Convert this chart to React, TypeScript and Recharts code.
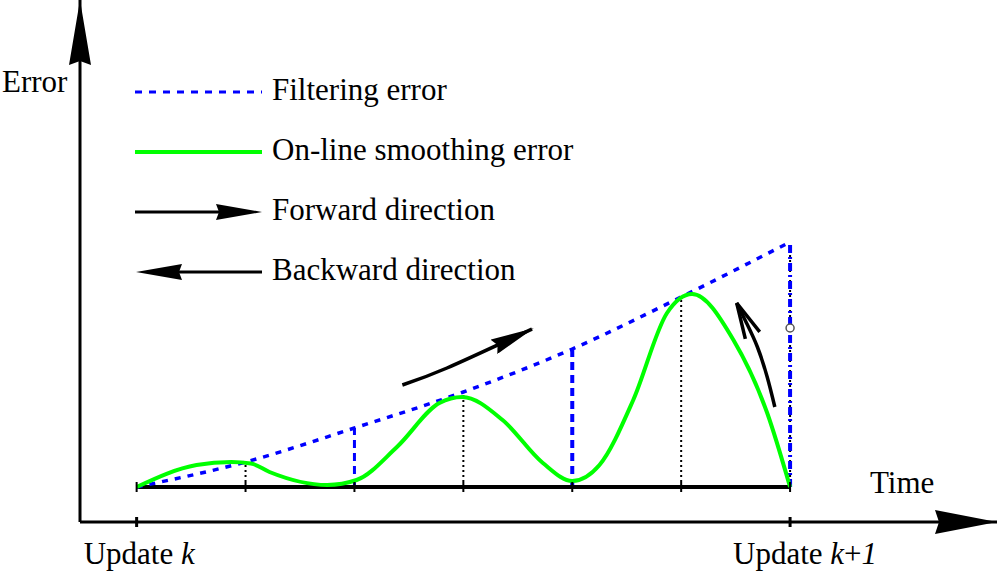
import React from "react";
import {
    ComposedChart,
    Line,
    XAxis,
    YAxis,
    ReferenceLine,
    ReferenceDot,
    Scatter,
    Legend,
    Label,
} from "recharts";

// time steps between update k and update k+1
const steps = [0, 1, 2, 3, 4, 5, 6];
const filteringError = [0, 0.25, 0.59, 0.95, 1.38, 1.9, 2.45];

// on-line smoothing error
const smoothT = [
    0, 0.55, 0.87, 1.05, 1.22, 1.75, 2.02, 2.39, 2.78, 2.99, 3.36, 3.73, 4.0,
    4.25, 4.56, 4.87, 5.1, 5.48, 5.79, 6,
];
const smoothErr = [
    0, 0.22, 0.25, 0.235, 0.15, 0.02, 0.07, 0.4, 0.84, 0.9, 0.67, 0.24, 0.06,
    0.22, 0.87, 1.74, 1.93, 1.47, 0.74, 0,
];

// direction arrows
const forwardT = [2.44, 2.85, 3.63];
const forwardErr = [1.02, 1.19, 1.58];
const backwardT = [5.86, 5.79, 5.7, 5.6, 5.51];
const backwardErr = [0.8, 1.1, 1.4, 1.64, 1.84];

const markerT = 6;
const markerErr = 1.59;

const updateLabels = ["k", "k+1"];
const legendLabels = [
    "Filtering error",
    "On-line smoothing error",
    "Forward direction",
    "Backward direction",
];

const xDomain = [-0.52, 7.9];
const yDomain = [-0.35, 4.87];

const BLUE = "#0000ff";
const GREEN = "#00ff00";
const FONT = "'Liberation Serif', 'Times New Roman', serif";

const filterData = steps.map((t, i) => ({ t, v: filteringError[i] }));
const smoothData = smoothT.map((t, i) => ({ t, v: smoothErr[i] }));
const forwardData = forwardT.map((t, i) => ({ t, v: forwardErr[i] }));
const backwardData = backwardT.map((t, i) => ({ t, v: backwardErr[i] }));
const tickData = steps.map((t) => ({ t, v: 0 }));

function LegendIcon({ index }: { index: number }) {
    if (index === 0) {
        return (
            <svg width={130} height={20}>
                <line x1={0} y1={10} x2={127} y2={10} stroke={BLUE} strokeWidth={3} strokeDasharray="7 7" />
            </svg>
        );
    }
    if (index === 1) {
        return (
            <svg width={130} height={20}>
                <line x1={0} y1={10} x2={127} y2={10} stroke={GREEN} strokeWidth={4} />
            </svg>
        );
    }
    if (index === 2) {
        return (
            <svg width={130} height={20}>
                <line x1={0} y1={10} x2={100} y2={10} stroke="#000" strokeWidth={3} />
                <polygon points="127,10 81,2 84,10 81,18" fill="#000" />
            </svg>
        );
    }
    return (
        <svg width={130} height={20}>
            <line x1={30} y1={10} x2={127} y2={10} stroke="#000" strokeWidth={3} />
            <polygon points="1,10 47,2 44,10 47,18" fill="#000" />
        </svg>
    );
}

function renderLegend() {
    return (
        <div style={{ position: "relative", width: 480, height: 240, fontFamily: FONT }}>
            {legendLabels.map((label, i) => (
                <div
                    key={label}
                    style={{
                        position: "absolute",
                        left: 0,
                        top: i * 60,
                        height: 40,
                        display: "flex",
                        alignItems: "center",
                        whiteSpace: "nowrap",
                    }}
                >
                    <LegendIcon index={i} />
                    <span style={{ marginLeft: 7, fontSize: 31, color: "#000", position: "relative", top: -2 }}>
                        {label}
                    </span>
                </div>
            ))}
        </div>
    );
}

function UpdateTick(props: any) {
    const { x, y, payload } = props;
    const i = payload.value === 0 ? 0 : 1;
    const sub = updateLabels[i];
    const axisY = y - 8;
    return (
        <g>
            <line x1={x} y1={axisY - 5} x2={x} y2={axisY + 5} stroke="#000" strokeWidth={3} />
            <text x={x - (i === 0 ? 53 : 57)} y={y + 34} fontFamily={FONT} fontSize={31} fill="#000">
                Update{" "}
                <tspan fontStyle="italic">{sub.charAt(0)}</tspan>
                {sub.length > 1 && <tspan>+</tspan>}
                {sub.length > 1 && <tspan fontStyle="italic">{sub.slice(2)}</tspan>}
            </text>
        </g>
    );
}

function BaseTick(props: any) {
    const { cx, cy } = props;
    return <line x1={cx} y1={cy - 5} x2={cx} y2={cy + 5} stroke="#000" strokeWidth={2} />;
}

function XArrow(props: any) {
    const { cx, cy } = props;
    return <polygon points={`${cx},${cy} ${cx - 62},${cy - 12} ${cx - 58},${cy} ${cx - 62},${cy + 12}`} fill="#000" />;
}

function YArrow(props: any) {
    const { cx, cy } = props;
    return <polygon points={`${cx},${cy} ${cx - 11},${cy + 65} ${cx},${cy + 61} ${cx + 11},${cy + 65}`} fill="#000" />;
}

function dropStyle(t: number) {
    if (t === 6) return { stroke: BLUE, strokeWidth: 4, strokeDasharray: "8 4 2 4" };
    if (t % 2 === 0) return { stroke: BLUE, strokeWidth: t === 4 ? 4 : 3, strokeDasharray: "8 5" };
    return { stroke: "#000", strokeWidth: 2, strokeDasharray: "2 3" };
}

export default function App() {
    return (
        <div style={{ position: "absolute", left: 0, top: 0, width: 1000, height: 572, background: "#fff" }}>
            <ComposedChart
                width={1000}
                height={572}
                margin={{ top: 0, right: 3, bottom: 0, left: 0 }}
            >
                <defs>
                    <marker
                        id="fwdHead"
                        markerUnits="userSpaceOnUse"
                        viewBox="0 0 44 16"
                        markerWidth={44}
                        markerHeight={16}
                        refX={42}
                        refY={8}
                        orient="auto"
                    >
                        <polygon points="44,8 0,0 4,8 0,16" fill="#000" />
                    </marker>
                    <marker
                        id="bwdHead"
                        markerUnits="userSpaceOnUse"
                        viewBox="0 0 40 20"
                        markerWidth={40}
                        markerHeight={20}
                        refX={38}
                        refY={10}
                        orient="auto"
                    >
                        <path d="M2,2 L38,10 L2,18" fill="none" stroke="#000" strokeWidth={3.5} />
                    </marker>
                </defs>
                <XAxis
                    dataKey="t"
                    type="number"
                    domain={xDomain}
                    allowDataOverflow
                    ticks={[0, 6]}
                    interval={0}
                    height={50}
                    tickLine={false}
                    axisLine={{ stroke: "#000", strokeWidth: 3 }}
                    tick={<UpdateTick />}
                >
                    <Label
                        content={(p: any) => (
                            <text
                                x={p.viewBox.x + p.viewBox.width - 127}
                                y={p.viewBox.y - 29}
                                fontFamily={FONT}
                                fontSize={31}
                                fill="#000"
                            >
                                Time
                            </text>
                        )}
                    />
                </XAxis>
                <YAxis
                    dataKey="v"
                    type="number"
                    domain={yDomain}
                    allowDataOverflow
                    width={80}
                    tick={false}
                    tickLine={false}
                    axisLine={{ stroke: "#000", strokeWidth: 3 }}
                >
                    <Label
                        content={(p: any) => (
                            <text x={p.viewBox.x + 2} y={p.viewBox.y + 92} fontFamily={FONT} fontSize={31} fill="#000">
                                Error
                            </text>
                        )}
                    />
                </YAxis>
                <Legend
                    layout="horizontal"
                    verticalAlign="middle"
                    align="center"
                    content={renderLegend}
                    wrapperStyle={{ left: 135, top: 72, width: 480, height: 240 }}
                />
                <ReferenceLine
                    segment={[
                        { x: markerT, y: 0 },
                        { x: markerT, y: filteringError[filteringError.length - 1] },
                    ]}
                    stroke="#000"
                    strokeWidth={2}
                    strokeDasharray="2 3"
                    ifOverflow="visible"
                />
                {steps.slice(1).map((t, i) => (
                    <ReferenceLine
                        key={t}
                        segment={[
                            { x: t, y: 0 },
                            { x: t, y: filteringError[i + 1] },
                        ]}
                        {...dropStyle(t)}
                        ifOverflow="visible"
                    />
                ))}
                <ReferenceLine
                    segment={[
                        { x: steps[0], y: 0 },
                        { x: steps[steps.length - 1], y: 0 },
                    ]}
                    stroke="#000"
                    strokeWidth={4}
                    ifOverflow="visible"
                />
                <Line
                    data={filterData}
                    dataKey="v"
                    type="monotone"
                    stroke={BLUE}
                    strokeWidth={3.5}
                    strokeDasharray="6 7"
                    dot={false}
                    activeDot={false}
                    legendType="none"
                    isAnimationActive={false}
                />
                <Line
                    data={smoothData}
                    dataKey="v"
                    type="monotone"
                    stroke={GREEN}
                    strokeWidth={4}
                    dot={false}
                    activeDot={false}
                    legendType="none"
                    isAnimationActive={false}
                />
                <Line
                    data={forwardData}
                    dataKey="v"
                    type="natural"
                    stroke="#000"
                    strokeWidth={3.5}
                    markerEnd="url(#fwdHead)"
                    dot={false}
                    activeDot={false}
                    legendType="none"
                    isAnimationActive={false}
                />
                <Line
                    data={backwardData}
                    dataKey="v"
                    type="natural"
                    stroke="#000"
                    strokeWidth={3.5}
                    markerEnd="url(#bwdHead)"
                    dot={false}
                    activeDot={false}
                    legendType="none"
                    isAnimationActive={false}
                />
                <Scatter data={tickData} dataKey="v" shape={<BaseTick />} legendType="none" isAnimationActive={false} />
                <ReferenceDot
                    x={markerT}
                    y={markerErr}
                    r={4}
                    fill="#fff"
                    stroke="#555"
                    strokeWidth={1.5}
                    ifOverflow="visible"
                />
                <ReferenceDot x={xDomain[1]} y={yDomain[0]} shape={<XArrow />} ifOverflow="visible" />
                <ReferenceDot x={xDomain[0]} y={yDomain[1]} shape={<YArrow />} ifOverflow="visible" />
            </ComposedChart>
        </div>
    );
}
